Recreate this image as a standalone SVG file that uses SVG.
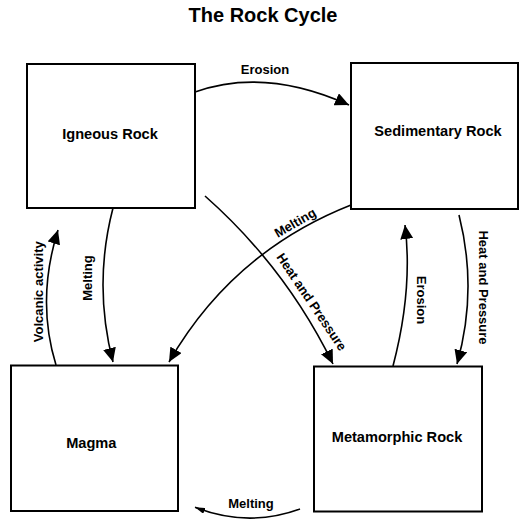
<svg xmlns="http://www.w3.org/2000/svg" width="525" height="523" viewBox="0 0 525 523">
<style>
.box{fill:#fff;stroke:#000;stroke-width:2}
.edge{fill:none;stroke:#000;stroke-width:1.6}
text{font-family:"Liberation Sans",Arial,Helvetica,sans-serif;font-weight:bold;fill:#000;text-anchor:middle}
.title{font-size:20px}
.node{font-size:14.6px}
.lbl{font-size:13px}
</style>
<defs>
<marker id="ah" viewBox="0 0 14 13" refX="14" refY="6.5" markerWidth="14" markerHeight="13" markerUnits="userSpaceOnUse" orient="auto">
<path d="M0,0 L14,6.5 L0,13 z" fill="#000"/>
</marker>
<marker id="ahs" viewBox="0 0 10 6" refX="10" refY="3" markerWidth="10" markerHeight="6" markerUnits="userSpaceOnUse" orient="auto">
<path d="M0,0 L10,3 L0,6 z" fill="#000"/>
</marker>
</defs>
<rect width="525" height="523" fill="#fff"/>
<text class="title" x="263" y="22">The Rock Cycle</text>
<g id="connectors">
<path class="edge" d="M195,92 Q265,67 349,105" marker-end="url(#ah)"/>
<path class="edge" d="M113,208 Q93,285 113,362" marker-end="url(#ah)"/>
<path class="edge" d="M56,365 Q36,300 58,230" marker-end="url(#ah)"/>
<path class="edge" d="M205,196 Q285.7,267.3 333,364" marker-end="url(#ah)"/>
<path class="edge" d="M351,205 Q232.6,251.7 169,362" marker-end="url(#ah)"/>
<path class="edge" d="M393,366 Q413,290 405,225" marker-end="url(#ah)"/>
<path class="edge" d="M459,215 Q478,290 457,364" marker-end="url(#ah)"/>
<path class="edge" d="M300,509 Q248,528 195,507.3" marker-end="url(#ahs)"/>
<text class="lbl" x="265" y="74">Erosion</text>
<text class="lbl" transform="translate(92,278) rotate(-90)">Melting</text>
<text class="lbl" transform="translate(42.5,291.7) rotate(-90)">Volcanic activity</text>
<text class="lbl" transform="translate(417,300) rotate(90)">Erosion</text>
<text class="lbl" transform="translate(478.5,287.5) rotate(90)">Heat and Pressure</text>
<text class="lbl" transform="translate(307.9,304.4) rotate(56)">Heat and Pressure</text>
<text class="lbl" transform="translate(297.4,226.6) rotate(-30)">Melting</text>
<text class="lbl" x="251" y="507.5">Melting</text>
</g>
<g id="igneous">
<rect class="box" x="27" y="64" width="168" height="144"/>
<text class="node" x="110" y="139">Igneous Rock</text>
</g>
<g id="sedimentary">
<rect class="box" x="351" y="63" width="167" height="146"/>
<text class="node" x="438" y="136">Sedimentary Rock</text>
</g>
<g id="magma">
<rect class="box" x="11" y="365.5" width="167" height="145.5"/>
<text class="node" x="91.3" y="447.5">Magma</text>
</g>
<g id="metamorphic">
<rect class="box" x="314" y="366.5" width="168" height="145"/>
<text class="node" x="397" y="442">Metamorphic Rock</text>
</g>
</svg>
